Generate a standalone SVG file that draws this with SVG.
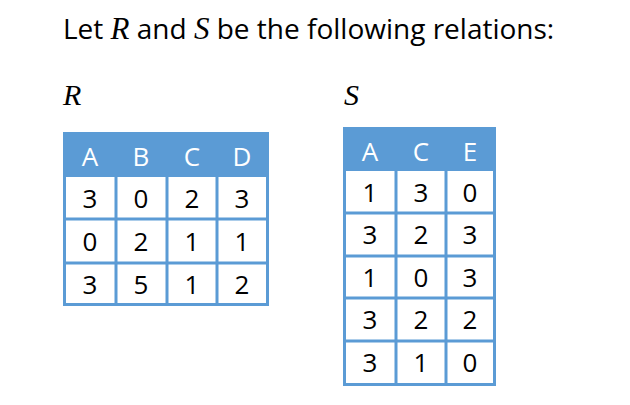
<svg xmlns="http://www.w3.org/2000/svg" width="630" height="405" viewBox="0 0 630 405">
<style>
text{font-family:"Open Sans","Liberation Sans",sans-serif;font-size:26px;fill:#000;text-anchor:middle}
.h{fill:#fff}
.g{stroke:#5B9BD5;stroke-width:3;fill:none}
.hd{fill:#5B9BD5}
.v{font-family:"Liberation Serif",serif;font-style:italic;font-size:30px;text-anchor:start}
</style>
<rect width="630" height="405" fill="#fff"/>
<text x="63" y="39" style="text-anchor:start;font-size:28px">Let <tspan style="font-size:31px;font-family:'Liberation Serif',serif;font-style:italic">R</tspan> and <tspan style="font-size:31px;font-family:'Liberation Serif',serif;font-style:italic">S</tspan> be the following relations:</text>
<text class="v" x="63" y="105">R</text>
<text class="v" x="344" y="105">S</text>
<g id="R">
<rect class="hd" x="63" y="132" width="206" height="45"/>
<path class="g" d="M64.5,177V304.5H267.5V177M64.5,219H267.5M64.5,263H267.5M116,177V304.5M167,177V304.5M217,177V304.5"/>
<path d="M64.5,132V177M267.5,132V177" stroke="#5B9BD5" stroke-width="3"/>
<text class="h" x="90" y="166">A</text><text class="h" x="141" y="166">B</text><text class="h" x="192" y="166">C</text><text class="h" x="242" y="166">D</text>
<text x="90" y="208">3</text><text x="141" y="208">0</text><text x="192" y="208">2</text><text x="242" y="208">3</text>
<text x="90" y="251">0</text><text x="141" y="251">2</text><text x="192" y="251">1</text><text x="242" y="251">1</text>
<text x="90" y="294">3</text><text x="141" y="294">5</text><text x="192" y="294">1</text><text x="242" y="294">2</text>
</g>
<g id="S">
<rect class="hd" x="343" y="127" width="153" height="44"/>
<path class="g" d="M344.5,171V384.5H494.5V171M344.5,213H494.5M344.5,256H494.5M344.5,298H494.5M344.5,341H494.5M396,171V384.5M446,171V384.5"/>
<text class="h" x="370" y="161">A</text><text class="h" x="421" y="161">C</text><text class="h" x="470" y="161">E</text>
<text x="370" y="202">1</text><text x="421" y="202">3</text><text x="470" y="202">0</text>
<text x="370" y="244">3</text><text x="421" y="244">2</text><text x="470" y="244">3</text>
<text x="370" y="287">1</text><text x="421" y="287">0</text><text x="470" y="287">3</text>
<text x="370" y="329">3</text><text x="421" y="329">2</text><text x="470" y="329">2</text>
<text x="370" y="372">3</text><text x="421" y="372">1</text><text x="470" y="372">0</text>
</g>
</svg>
